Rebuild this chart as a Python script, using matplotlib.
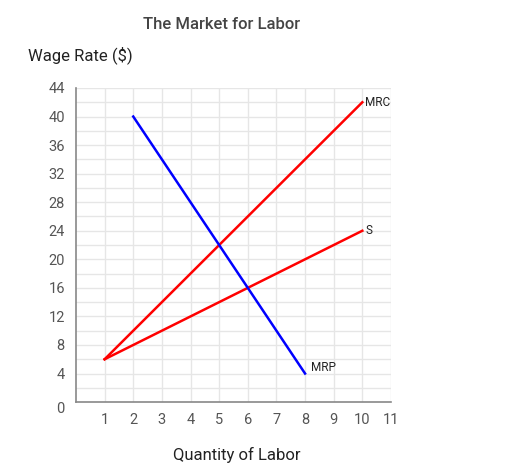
import matplotlib
matplotlib.use("Agg")
import matplotlib.pyplot as plt
import numpy as np

plt.rcParams['font.family'] = ['Roboto', 'DejaVu Sans']

# data
mrc_x = [1, 10]
mrc_y = [6, 42]
s_x = [1, 10]
s_y = [6, 24]
mrp_x = [2, 8]
mrp_y = [40, 4]
x_ticks = list(range(1, 12))
y_ticks = list(range(0, 45, 4))

fig = plt.figure(figsize=(5.11, 4.67), dpi=100)
ax = fig.add_axes([0.1487, 0.139, 0.6164, 0.6726])

ax.set_xlim(0, 11)
ax.set_ylim(0, 44)
ax.set_xticks(x_ticks)
ax.set_yticks(y_ticks)
ax.set_yticks(range(0, 45, 2), minor=True)
ax.grid(True, which='both', color='#e6e6e6', linewidth=1)
ax.set_axisbelow(True)

for sp in ['top', 'right']:
    ax.spines[sp].set_visible(False)
for sp in ['left', 'bottom']:
    ax.spines[sp].set_color('#888888')
    ax.spines[sp].set_linewidth(1.2)
ax.tick_params(which='both', length=0, labelsize=10.5, colors='#555555')
ax.tick_params(axis='x', pad=8)
ax.tick_params(axis='y', pad=8)
# zero label sits below the axis line
ax.get_yticklabels()[0].set_verticalalignment('top')

ax.plot(mrc_x, mrc_y, color='#ff0000', lw=1.8)
ax.plot(s_x, s_y, color='#ff0000', lw=1.8)
ax.plot(mrp_x, mrp_y, color='#0000ff', lw=1.8)

ax.text(mrc_x[-1] + 0.1, mrc_y[-1], 'MRC', fontsize=8.5, color='#222222', va='center')
ax.text(s_x[-1] + 0.1, s_y[-1], 'S', fontsize=8.5, color='#222222', va='center')
ax.text(mrp_x[-1] + 0.2, mrp_y[-1] + 0.8, 'MRP', fontsize=8.5, color='#222222', va='center')

fig.text(0.434, 0.948, 'The Market for Labor', fontsize=12, fontweight='medium',
         color='#444444', ha='center', va='center')
fig.text(0.055, 0.882, 'Wage Rate ($)', fontsize=12, color='#222222', ha='left', va='center')
fig.text(0.464, 0.026, 'Quantity of Labor', fontsize=12, color='#222222', ha='center', va='center')

fig.savefig('out.png', dpi=100)
